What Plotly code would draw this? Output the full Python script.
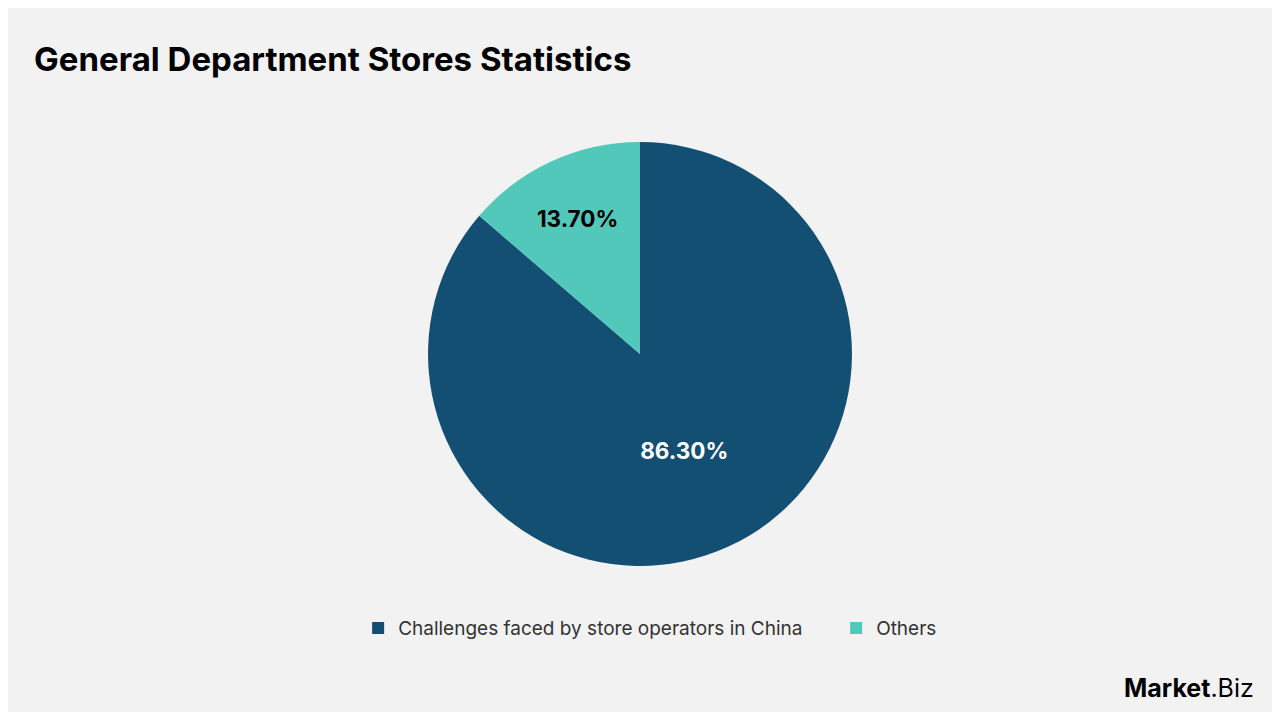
import plotly.graph_objects as go

labels = ["Challenges faced by store operators in China", "Others"]
values = [86.3, 13.7]
colors = ["#134F73", "#51C8BA"]
text_colors = ["white", "black"]

fig = go.Figure(go.Pie(
    labels=labels, values=values, sort=False, direction="clockwise", rotation=0,
    marker=dict(colors=colors),
    texttemplate="%{value:.2f}%", textposition="inside",
    insidetextfont=dict(color=text_colors, size=22.5, family="Inter", weight="bold"),
    domain=dict(x=[0.3323, 0.6677], y=[0.2074, 0.8097]),
    hoverinfo="label+percent",
))

# page body adds an 8px margin, so the figure is 16px smaller than the window
fig.update_layout(
    width=1264, height=704, margin=dict(l=0, r=0, t=0, b=0, autoexpand=False),
    paper_bgcolor="#F2F2F2", plot_bgcolor="#F2F2F2",
    font=dict(family="Inter", color="#222"),
    title=dict(text="<b>General Department Stores Statistics</b>", x=0.0206, xanchor="left",
               y=0.9276, yanchor="middle", font=dict(size=33, color="black")),
    legend=dict(orientation="h", x=0.277, xanchor="left", y=0.119, yanchor="middle",
                font=dict(size=19, color="#333"), entrywidth=433, entrywidthmode="pixels"),
    annotations=[dict(text="<b>Market</b>.Biz", x=0.987, xanchor="right", y=0.034, yanchor="middle",
                      xref="paper", yref="paper", showarrow=False,
                      font=dict(size=25, color="black"))],
)

fig.write_html("out.html")
